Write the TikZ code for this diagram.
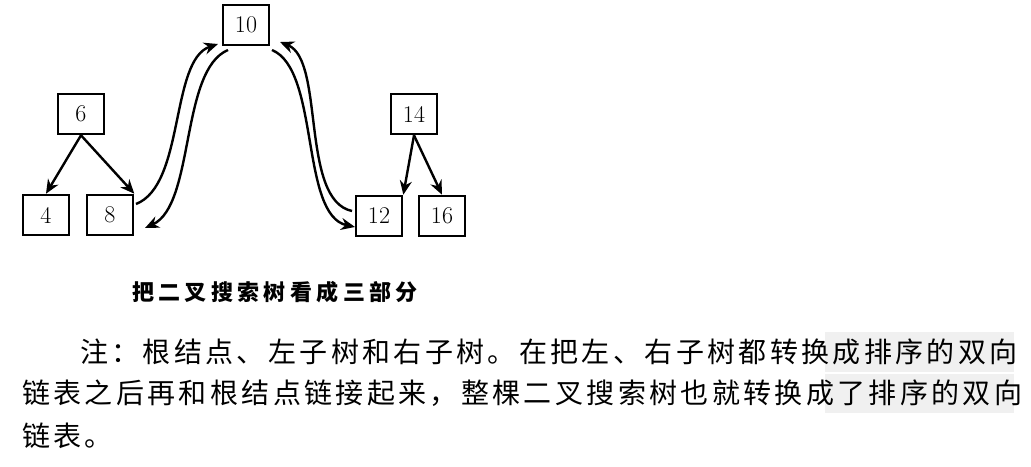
\documentclass[tikz,border=0pt]{standalone}
\usepackage{fontspec}
\newfontfamily\cjk{Noto Sans CJK SC}
\newfontfamily\cjksp[LetterSpace=12]{Noto Sans CJK SC}
\newfontfamily\cjkcap[LetterSpace=20]{Noto Sans CJK SC}
\usetikzlibrary{arrows.meta}
\begin{document}
\begin{tikzpicture}[x=1pt,y=-1pt,
  box/.style={draw,line width=2.6pt,minimum width=46pt,minimum height=40pt,inner sep=0pt,font=\fontsize{24}{24}\selectfont},
  arr/.style={line width=2.4pt,-{Stealth[length=14pt,width=12pt]}},
  txt/.style={anchor=west,inner sep=0pt,font=\cjksp\fontsize{28}{28}\selectfont}]
\useasboundingbox (0,0) rectangle (1031,466);
\fill[black!6] (825,332) rectangle (1014,372);
\fill[black!6] (825,374) rectangle (1014,413);
\node[box] (n10) at (246,25) {10};
\node[box] (n6) at (81,114) {6};
\node[box] (n14) at (414,114) {14};
\node[box] (n4) at (46,215) {4};
\node[box] (n8) at (110,215) {8};
\node[box] (n12) at (379,216) {12};
\node[box] (n16) at (442,216) {16};
\draw[arr] (n6.south) -- (n4.north);
\draw[arr] (n6.south) -- (n8.north east);
\draw[arr] (n14.south) -- (n12.north east);
\draw[arr] (n14.south) -- (n16.north);
\coordinate (a1) at (136,204);
\coordinate (a2) at (218,44);
\draw[arr] (a1) .. controls (185,185) and (170,60) .. (a2);
\coordinate (b1) at (228,50);
\coordinate (b2) at (145,228);
\draw[arr] (b1) .. controls (180,70) and (195,205) .. (b2);
\coordinate (c1) at (352,211);
\coordinate (c2) at (280,42);
\draw[arr] (c1) .. controls (300,200) and (325,60) .. (c2);
\coordinate (d1) at (272,50);
\coordinate (d2) at (355,227);
\draw[arr] (d1) .. controls (320,70) and (300,215) .. (d2);
\node[font=\cjkcap\bfseries\fontsize{22}{22}\selectfont] (cap) at (275,292) {把二叉搜索树看成三部分};
\node[txt] (l1) at (80,352) {注：根结点、左子树和右子树。在把左、右子树都转换成排序的双向};
\node[txt] (l2) at (22,393) {链表之后再和根结点链接起来，整棵二叉搜索树也就转换成了排序的双向};
\node[txt] (l3) at (22,436) {链表。};
\end{tikzpicture}
\end{document}
